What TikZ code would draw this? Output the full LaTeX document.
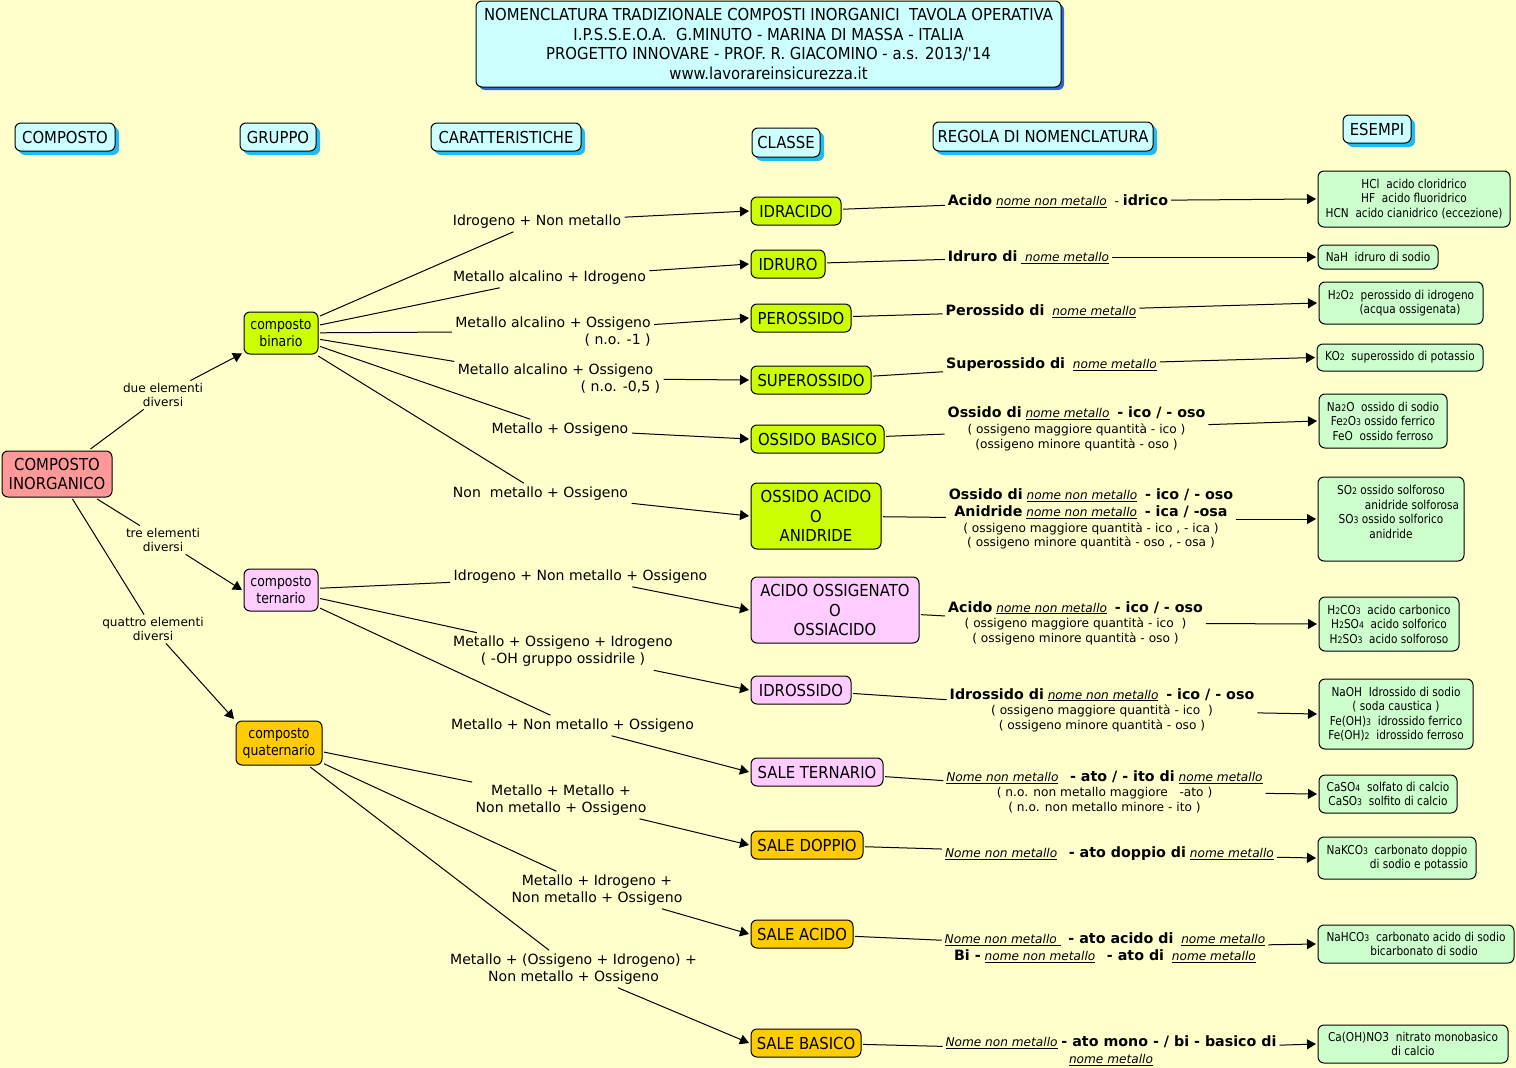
\documentclass[tikz,border=0pt]{standalone}
\usepackage{fontspec}
\setmainfont{DejaVu Sans}
\newfontfamily\boxfont[FakeStretch=0.9]{DejaVu Sans}
\newfontfamily\smallboxfont[FakeStretch=0.86]{DejaVu Sans}
\usetikzlibrary{arrows.meta,shadows}
\definecolor{paper}{HTML}{FFFFCC}
\definecolor{headfill}{HTML}{CCFFFF}
\definecolor{headshade}{HTML}{22BBEE}
\definecolor{titleshade}{HTML}{3366CC}
\definecolor{redfill}{HTML}{FF9999}
\definecolor{limefill}{HTML}{CCFF00}
\definecolor{pinkfill}{HTML}{FFCCFF}
\definecolor{goldfill}{HTML}{FFCC00}
\definecolor{mintfill}{HTML}{CCFFCC}
\begin{document}
\begin{tikzpicture}[x=1pt, y=-1pt, line width=1pt,
    box/.style={draw=black, rounded corners=6pt, align=center, inner sep=0pt, outer sep=2pt},
    title/.style={box, fill=headfill, font=\boxfont\fontsize{16.5}{19.4}\selectfont,
        drop shadow={shadow xshift=3pt, shadow yshift=-3pt, fill=titleshade, opacity=1}},
    header/.style={title, drop shadow={shadow xshift=4pt, shadow yshift=-4pt, fill=headshade, opacity=1}},
    gruppo/.style={box, font=\smallboxfont\fontsize{14.5}{17}\selectfont},
    classe/.style={box, font=\boxfont\fontsize{16.5}{19.4}\selectfont},
    esempio/.style={box, fill=mintfill, font=\smallboxfont\fontsize{12.25}{14.5}\selectfont},
    caratt/.style={align=center, inner sep=3pt, yshift=-1.5pt, font=\fontsize{14.05}{17}\selectfont},
    small/.style={align=center, inner sep=2pt, font=\fontsize{12.1}{14.4}\selectfont},
    regola/.style={align=center, inner sep=2.5pt, yshift=-1pt, font=\fontsize{12.2}{14.4}\selectfont},
    link/.style={-},
    arrow/.style={-{Triangle[length=9pt,width=10pt]}}]
    \def\nm#1{\setbox0=\hbox{\fontsize{12.15}{14}\selectfont\itshape #1}\rlap{\rule[-2pt]{\wd0}{.7pt}}\box0}
    \def\bd#1{{\fontsize{14.25}{14}\selectfont\bfseries #1}}
    \def\nn#1{{\fontsize{9}{9}\selectfont #1}}

    \fill[paper] (0,0) rectangle (1516,1068);
    \useasboundingbox (0,0) rectangle (1516,1068);

    % titles of the columns
    \node[title, minimum width=585pt, minimum height=86pt] (titolo) at (768.5,44) {NOMENCLATURA TRADIZIONALE COMPOSTI INORGANICI\ \ TAVOLA OPERATIVA\\I.P.S.S.E.O.A.\ \ G.MINUTO - MARINA DI MASSA - ITALIA\\PROGETTO INNOVARE - PROF. R. GIACOMINO - a.s. 2013/'14\\www.lavorareinsicurezza.it};
    \node[header, minimum width=100pt, minimum height=28pt] (hcomposto) at (65,137) {COMPOSTO};
    \node[header, minimum width=76pt, minimum height=28pt] (hgruppo) at (278,137) {GRUPPO};
    \node[header, minimum width=150pt, minimum height=28pt] (hcaratt) at (506,137) {CARATTERISTICHE};
    \node[header, minimum width=68pt, minimum height=29pt] (hclasse) at (786,142.5) {CLASSE};
    \node[header, minimum width=220pt, minimum height=29pt] (hregola) at (1043,136.5) {REGOLA DI NOMENCLATURA};
    \node[header, minimum width=68pt, minimum height=28pt] (hesempi) at (1377,129) {ESEMPI};

    % composto and gruppi
    \node[classe, fill=redfill, minimum width=110pt, minimum height=46pt] (inorg) at (57,474) {COMPOSTO\\INORGANICO};
    \node[gruppo, fill=limefill, minimum width=74pt, minimum height=42pt] (binario) at (281,333) {composto\\binario};
    \node[gruppo, fill=pinkfill, minimum width=74pt, minimum height=42pt] (ternario) at (281,590) {composto\\ternario};
    \node[gruppo, fill=goldfill, minimum width=86pt, minimum height=44pt] (quatern) at (279,743) {composto\\quaternario};

    \node[small] (due) at (163,395) {due elementi\\diversi};
    \node[small] (tre) at (163,540) {tre elementi\\diversi};
    \node[small] (quattro) at (153,629) {quattro elementi\\diversi};

    % caratteristiche
    \node[caratt] (c1) at (537,220) {Idrogeno + Non metallo};
    \node[caratt] (c2) at (549.5,276) {Metallo alcalino + Idrogeno};
    \node[caratt, align=right] (c3) at (553,330) {Metallo alcalino + Ossigeno\\( n.o. -1 )\ };
    \node[caratt, align=right] (c4) at (559,377) {Metallo alcalino + Ossigeno\hspace*{7pt}\\( n.o. -0,5 )};
    \node[caratt] (c5) at (560,428) {Metallo + Ossigeno};
    \node[caratt] (c6) at (540.5,492) {Non\ \ metallo + Ossigeno};
    \node[caratt] (c7) at (580.5,575) {Idrogeno + Non metallo + Ossigeno};
    \node[caratt] (c8) at (563,650) {Metallo + Ossigeno + Idrogeno\\( -OH gruppo ossidrile )};
    \node[caratt] (c9) at (572.5,724) {Metallo + Non metallo + Ossigeno};
    \node[caratt] (c10) at (561,798.5) {Metallo + Metallo +\\Non metallo + Ossigeno};
    \node[caratt] (c11) at (597,888.5) {Metallo + Idrogeno +\\Non metallo + Ossigeno};
    \node[caratt] (c12) at (573.5,967.5) {Metallo + (Ossigeno + Idrogeno) +\\Non metallo + Ossigeno};

    % classi
    \node[classe, fill=limefill, minimum width=90pt, minimum height=28pt] (idracido) at (796,211) {IDRACIDO};
    \node[classe, fill=limefill, minimum width=74pt, minimum height=28pt] (idruro) at (788,264) {IDRURO};
    \node[classe, fill=limefill, minimum width=100pt, minimum height=28pt] (perossido) at (801,318) {PEROSSIDO};
    \node[classe, fill=limefill, minimum width=120pt, minimum height=28pt] (supeross) at (811,380) {SUPEROSSIDO};
    \node[classe, fill=limefill, minimum width=133pt, minimum height=28pt] (basico) at (817.5,439) {OSSIDO BASICO};
    \node[classe, fill=limefill, minimum width=130pt, minimum height=66pt] (acido) at (816,516) {OSSIDO ACIDO\\O\\ANIDRIDE};
    \node[classe, fill=pinkfill, minimum width=168pt, minimum height=66pt] (ossiacido) at (835,610) {ACIDO OSSIGENATO\\O\\OSSIACIDO};
    \node[classe, fill=pinkfill, minimum width=100pt, minimum height=28pt] (idrossido) at (801,690) {IDROSSIDO};
    \node[classe, fill=pinkfill, minimum width=132pt, minimum height=28pt] (ternar) at (817,772) {SALE TERNARIO};
    \node[classe, fill=goldfill, minimum width=112pt, minimum height=28pt] (doppio) at (807,845) {SALE DOPPIO};
    \node[classe, fill=goldfill, minimum width=102pt, minimum height=28pt] (salacido) at (802,934) {SALE ACIDO};
    \node[classe, fill=goldfill, minimum width=110pt, minimum height=28pt] (salbasico) at (806,1043) {SALE BASICO};

    % regole
    \node[regola] (r1) at (1058,200) {\bd{Acido} \nm{nome non metallo}\ \ - \bd{idrico}};
    \node[regola] (r2) at (1028.5,256) {\bd{Idruro di} \nm{\ nome metallo}};
    \node[regola] (r3) at (1041,310) {\bd{Perossido di}\ \ \nm{nome metallo}};
    \node[regola] (r4) at (1051.5,364) {\bd{Superossido di}\ \ \nm{nome metallo}};
    \node[regola] (r5) at (1076.5,428) {\bd{Ossido di} \nm{nome metallo}\ \ \bd{- ico / - oso}\\[1.5pt]( ossigeno maggiore quantità - ico )\\(ossigeno minore quantità - oso )};
    \node[regola] (r6) at (1091,518) {\bd{Ossido di} \nm{nome non metallo}\ \ \bd{- ico / - oso}\\[2.5pt]\bd{Anidride} \nm{nome non metallo}\ \ \bd{- ica / -osa}\\[1.5pt]( ossigeno maggiore quantità - ico , - ica )\\( ossigeno minore quantità - oso , - osa )};
    \node[regola] (r7) at (1075.5,622) {\bd{Acido} \nm{nome non metallo}\ \ \bd{- ico / - oso}\\[1.5pt]( ossigeno maggiore quantità - ico\ \ )\\( ossigeno minore quantità - oso )};
    \node[regola] (r8) at (1102,709) {\bd{Idrossido di} \nm{nome non metallo}\ \ \bd{- ico / - oso}\\[1.5pt]( ossigeno maggiore quantità - ico\ \ )\\( ossigeno minore quantità - oso )};
    \node[regola] (r9) at (1104.5,790.5) {\nm{Nome non metallo}\ \ \ \bd{- ato / - ito di} \nm{nome metallo}\\[1pt]( n.o. non metallo maggiore\ \ \ -ato )\\( n.o. non metallo minore - ito )};
    \node[regola] (r10) at (1109.5,853) {\nm{Nome non metallo}\ \ \ \bd{- ato doppio di} \nm{nome metallo}};
    \node[regola] (r11) at (1105,946.5) {\nm{Nome non metallo\ }\ \ \bd{- ato acido di}\ \ \nm{nome metallo}\\[2.5pt]\bd{Bi -} \nm{nome non metallo}\ \ \ \bd{- ato di}\ \ \nm{nome metallo}};
    \node[regola] (r12) at (1111,1049.5) {\nm{Nome non metallo}\ \bd{- ato mono - / bi - basico di}\\[2.5pt]\nm{nome metallo}};

    % esempi
    \node[esempio, minimum width=192pt, minimum height=56pt] (e1) at (1414,199) {HCl\ \ acido cloridrico\\HF\ \ acido fluoridrico\\HCN\ \ acido cianidrico (eccezione)};
    \node[esempio, minimum width=120pt, minimum height=24pt] (e2) at (1378,257) {NaH\ \ idruro di sodio};
    \node[esempio, minimum width=164pt, minimum height=42pt] (e3) at (1401,303) {H\nn{2}O\nn{2}\ \ perossido di idrogeno\\\hspace*{18pt}(acqua ossigenata)};
    \node[esempio, minimum width=166pt, minimum height=27pt] (e4) at (1400,357.5) {KO\nn{2}\ \ superossido di potassio};
    \node[esempio, minimum width=128pt, minimum height=54pt] (e5) at (1383,421) {Na\nn{2}O\ \ ossido di sodio\\Fe\nn{2}O\nn{3} ossido ferrico\\FeO\ \ ossido ferroso};
    \node[esempio, minimum width=146pt, minimum height=84pt] (e6) at (1391,519) {SO\nn{2} ossido solforoso\\\hspace*{42pt}anidride solforosa\\SO\nn{3} ossido solforico\\anidride\\\ };
    \node[esempio, minimum width=140pt, minimum height=54pt] (e7) at (1389,624) {H\nn{2}CO\nn{3}\ \ acido carbonico\\H\nn{2}SO\nn{4}\ \ acido solforico\\H\nn{2}SO\nn{3}\ \ acido solforoso};
    \node[esempio, minimum width=154pt, minimum height=70pt] (e8) at (1396,714) {NaOH\ \ Idrossido di sodio\\( soda caustica )\\Fe(OH)\nn{3}\ \ idrossido ferrico\\Fe(OH)\nn{2}\ \ idrossido ferroso};
    \node[esempio, minimum width=138pt, minimum height=38pt] (e9) at (1388,794) {CaSO\nn{4}\ \ solfato di calcio\\CaSO\nn{3}\ \ solfito di calcio};
    \node[esempio, minimum width=158pt, minimum height=42pt] (e10) at (1397,858) {NaKCO\nn{3}\ \ carbonato doppio\\\hspace*{44pt}di sodio e potassio};
    \node[esempio, minimum width=196pt, minimum height=38pt] (e11) at (1416,944) {NaHCO\nn{3}\ \ carbonato acido di sodio\\\hspace*{16pt}bicarbonato di sodio};
    \node[esempio, minimum width=190pt, minimum height=38pt] (e12) at (1413,1044) {Ca(OH)NO3\ \ nitrato monobasico\\di calcio};

    % connectors
    \foreach \a/\b in {inorg/due, inorg/tre, inorg/quattro,
        binario/c1, binario/c2, binario/c3, binario/c4, binario/c5, binario/c6,
        ternario/c7, ternario/c8, ternario/c9,
        quatern/c10, quatern/c11, quatern/c12,
        idracido/r1, idruro/r2, perossido/r3, supeross/r4, basico/r5, acido/r6,
        ossiacido/r7, idrossido/r8, ternar/r9, doppio/r10, salacido/r11, salbasico/r12}
        \draw[link] (\a) -- (\b);

    \draw[arrow] (due) -- (binario);
    \draw[arrow] (tre) -- (ternario.west);
    \draw[arrow] (quattro) -- (quatern.north west);

    \foreach \a/\b in {c1/idracido, c2/idruro, c3/perossido, c4/supeross, c5/basico, c6/acido,
        c7/ossiacido, c8/idrossido, c9/ternar, c10/doppio, c11/salacido, c12/salbasico,
        r1/e1, r2/e2, r3/e3, r4/e4, r5/e5, r6/e6, r7/e7, r8/e8, r9/e9, r10/e10, r11/e11, r12/e12}
        \draw[arrow] (\a) -- (\b.west);
\end{tikzpicture}
\end{document}
